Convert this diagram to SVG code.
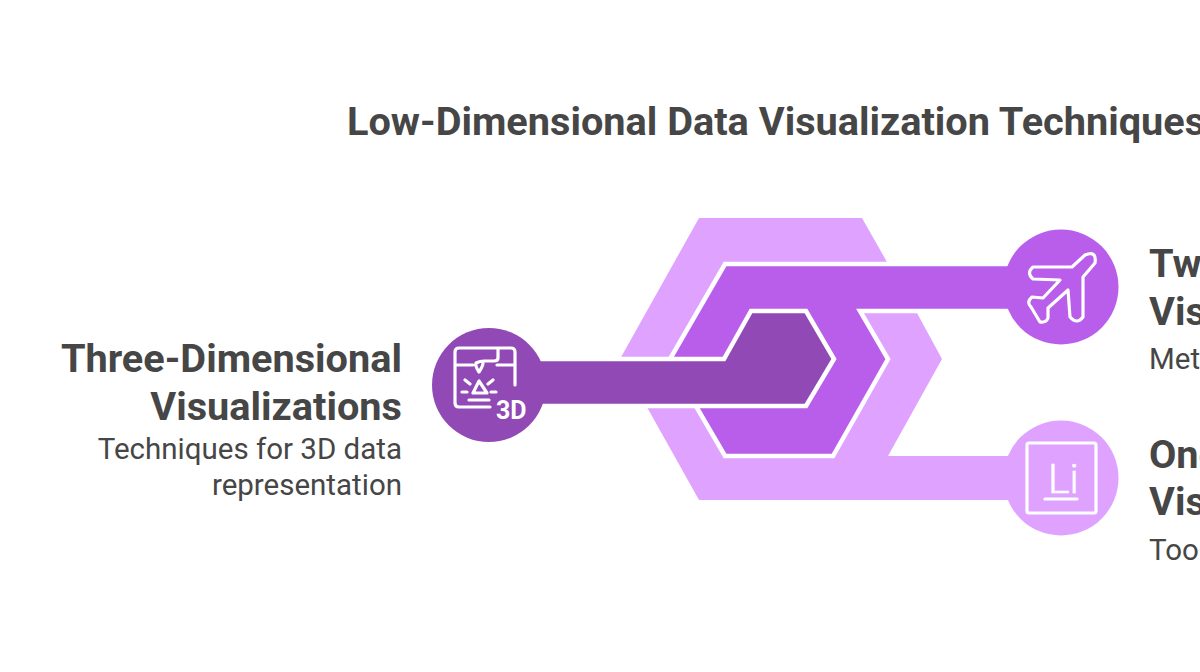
<svg xmlns="http://www.w3.org/2000/svg" width="1200" height="672" viewBox="0 0 1200 672">
<style>
text{font-family:Roboto,"Liberation Sans",sans-serif;fill:#464646}
.h{font-size:39.700px;font-weight:700}
.s{font-size:29.500px;font-weight:400}
.e{text-anchor:end}
.i{fill:none;stroke:#fff;stroke-width:3.200;stroke-linecap:round;stroke-linejoin:round}
.b{stroke:#fff;stroke-width:4.500;stroke-linejoin:miter}
</style>
<rect width="1200" height="672" fill="#fff"/>
<text id="title" x="347" y="135" style="font-size:39.700px;font-weight:700">Low-Dimensional Data Visualization Techniques</text>
<g id="connectors">
<polygon fill="#dfa3ff" points="699,218 862,218 887,262 862,313 917,313 942,359 888,456 1040,456 1040,500 699,500 620,359"/>
<polygon class="b" fill="#b95eeb" points="725,264 1040,264 1040,311 860,311 888,359 833,456 725,456 697,408 670,359"/>
<polygon class="b" fill="#9149b5" points="530,359 724,359 751,311 806,311 834,359 806,406 530,406"/>
</g>
<g id="node-3d">
<circle cx="489" cy="385" r="57" fill="#9149b5"/>
<path class="i" d="M515,385V352Q515,348 511,348H459Q455,348 455,352V403Q455,407 459,407H490M455,365H473M497,365H515M498,349V358Q498,361 494,361H484Q480,361 476,363Q475,366 479,372Q483,366 483,363M479,381L473,393H487ZM469,400H489M465,380L470,384M493,380L488,384M462,392H467M491,392H496"/>
<text x="496" y="419" style="font-size:25px;font-weight:700;fill:#fff">3D</text>
</g>
<g id="node-2d">
<circle cx="1061" cy="287" r="57.500" fill="#b95eeb"/>
<path class="i" d="M1085,255L1072,267H1033Q1026,273 1033,279L1060,280L1043,298L1032,297Q1026,302 1031,307L1040,322Q1046,323 1048,318V308L1068,290L1070,317Q1077,325 1083,317V277L1095,263Q1097,250 1085,255Z"/>
</g>
<g id="node-1d">
<circle cx="1061" cy="478" r="57.500" fill="#dfa3ff"/>
<rect class="i" x="1027" y="443" width="69" height="70" rx="2"/>
<text x="1048" y="493" style="font-size:41px;font-weight:300;fill:#fff;stroke:#fff;stroke-width:.5">Li</text>
<path class="i" d="M1045,499H1077"/>
</g>
<g id="label-3d">
<text class="h e" x="402" y="372">Three-Dimensional</text>
<text class="h e" x="402" y="420">Visualizations</text>
<text class="s e" x="402" y="459">Techniques for 3D data</text>
<text class="s e" x="402" y="495">representation</text>
</g>
<g id="label-2d">
<text class="h" x="1149" y="277">Two-Dimensional</text>
<text class="h" x="1149" y="325">Visualizations</text>
<text class="s" x="1149" y="369">Methods</text>
</g>
<g id="label-1d">
<text class="h" x="1149" y="468">One-Dimensional</text>
<text class="h" x="1149" y="515">Visualizations</text>
<text class="s" x="1149" y="560">Tools</text>
</g>
</svg>
